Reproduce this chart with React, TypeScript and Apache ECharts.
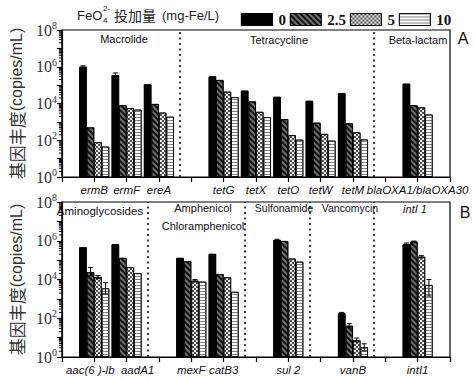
import React, { useEffect, useRef } from 'react';
import * as echarts from 'echarts';

// ---------- data ----------
const DOSES = ['0', '2.5', '5', '10'];

const TOP_CATEGORIES = ['', 'ermB', 'ermF', 'ereA', '', 'tetG', 'tetX', 'tetO', 'tetW', 'tetM', '', 'blaOXA1/blaOXA30', ''];
const TOP_DOSE_0 = [null, 1.0e6, 3.5e5, 1.1e5, null, 3.0e5, 5.0e4, 2.3e4, 1.4e4, 3.6e4, null, 1.2e5, null];
const TOP_DOSE_25 = [null, 5.0e2, 8.0e3, 9.4e3, null, 1.9e5, 1.3e4, 1.4e3, 9.0e2, 8.3e2, null, 8.0e3, null];
const TOP_DOSE_5 = [null, 78, 5.6e3, 3.2e3, null, 4.4e4, 3.5e3, 1.9e2, 2.2e2, 2.7e2, null, 6.2e3, null];
const TOP_DOSE_10 = [null, 45, 4.6e3, 1.9e3, null, 2.2e4, 1.8e3, 1.07e2, 95, 1.1e2, null, 2.5e3, null];
// [category index, dose index, low, high]
const TOP_ERRORS = [
  [1, 0, 9.0e5, 1.12e6],
  [2, 0, 2.8e5, 4.6e5],
];
const TOP_DIVIDERS = [4, 10];

const BOTTOM_CATEGORIES = ['', 'aac(6 )-lb', 'aadA1', '', 'mexF', 'catB3', '', 'sul 2', '', 'vanB', '', 'intI1', ''];
const BOTTOM_DOSE_0 = [null, 4.6e5, 6.6e5, null, 1.3e5, 2.1e5, null, 1.1e6, null, 1.8e2, null, 6.6e5, null];
const BOTTOM_DOSE_25 = [null, 2.4e4, 1.3e5, null, 8.7e4, 1.9e4, null, 9.7e5, null, 41, null, 9.0e5, null];
const BOTTOM_DOSE_5 = [null, 1.35e4, 4.3e4, null, 8.7e3, 1.3e4, null, 1.2e5, null, 7.5, null, 1.5e5, null];
const BOTTOM_DOSE_10 = [null, 3.5e3, 2.1e4, null, 7.7e3, 2.3e3, null, 8.3e4, null, 3.2, null, 5.2e3, null];
const BOTTOM_ERRORS = [
  [1, 1, 1.5e4, 4.2e4],
  [1, 2, 1.1e4, 1.6e4],
  [1, 3, 1.8e3, 6.8e3],
  [4, 2, 7.5e3, 1.0e4],
  [7, 0, 1.0e6, 1.2e6],
  [9, 0, 1.6e2, 2.0e2],
  [9, 1, 32, 53],
  [9, 2, 6.0, 9.5],
  [9, 3, 2.1, 4.8],
  [11, 0, 5.7e5, 7.6e5],
  [11, 1, 8.5e5, 9.6e5],
  [11, 2, 1.3e5, 1.7e5],
  [11, 3, 1.4e3, 1.0e4],
];
const BOTTOM_DIVIDERS = [3, 6, 8, 10];

const DECADES = [1, 10, 100, 1e3, 1e4, 1e5, 1e6, 1e7];
const MINOR_MULTIPLES = [2, 3, 4, 5, 6, 7, 8, 9];

// ---------- styles ----------
const BAR_W = 7.5;
const baseDecal = {
  symbol: 'rect',
  symbolSize: 1,
  symbolKeepAspect: false,
  backgroundColor: null,
  rotation: 0,
  maxTileWidth: 512,
  maxTileHeight: 512,
};
const PATTERNS = [
  { color: '#000000', decal: { ...baseDecal, color: '#000000', dashArrayX: [1, 0], dashArrayY: [1, 0] } },
  { color: '#707070', decal: { ...baseDecal, color: '#111111', dashArrayX: [1, 0], dashArrayY: [2, 1.5], rotation: Math.PI / 4 } },
  { color: '#f2f2f2', decal: { ...baseDecal, color: '#4a4a4a', dashArrayX: [[2, 2], [0, 2, 2, 0]], dashArrayY: [2, 0] } },
  { color: '#ffffff', decal: { ...baseDecal, color: '#808080', dashArrayX: [1, 0], dashArrayY: [1, 2] } },
];

const SANS = 'Liberation Sans, Arial, sans-serif';
const SERIF = 'Liberation Serif, Times New Roman, serif';
const CJK = 'Noto Sans CJK SC, sans-serif';

function barSeries(gi: number, arrays: (number | null)[][], dividers: number[]) {
  return arrays.map((arr, s) => ({
    type: 'bar',
    name: DOSES[s],
    xAxisIndex: gi,
    yAxisIndex: gi,
    data: arr,
    barWidth: BAR_W,
    barGap: '0%',
    itemStyle: { color: PATTERNS[s].color, decal: PATTERNS[s].decal, borderColor: '#000', borderWidth: 0.8 },
    markLine:
      s === 0
        ? {
            silent: true,
            symbol: ['none', 'none'],
            label: { show: false },
            lineStyle: { type: [2, 3.5], color: '#111', width: 1.6 },
            data: dividers.map((d) => ({ xAxis: d })),
          }
        : undefined,
  }));
}

function errorSeries(gi: number, errors: number[][]) {
  return {
    type: 'custom',
    xAxisIndex: gi,
    yAxisIndex: gi,
    silent: true,
    z: 5,
    data: errors,
    encode: { x: 0, y: [2, 3] },
    renderItem: (_p: any, api: any) => {
      const cat = api.value(0);
      const dose = api.value(1);
      const top = api.coord([cat, api.value(3)]);
      const bot = api.coord([cat, api.value(2)]);
      const x = top[0] + (dose - 1.5) * BAR_W;
      const style = { stroke: '#000', lineWidth: 1 };
      return {
        type: 'group',
        children: [
          { type: 'line', shape: { x1: x, y1: top[1], x2: x, y2: bot[1] }, style },
          { type: 'line', shape: { x1: x - 2.5, y1: top[1], x2: x + 2.5, y2: top[1] }, style },
          { type: 'line', shape: { x1: x - 2.5, y1: bot[1], x2: x + 2.5, y2: bot[1] }, style },
        ],
      };
    },
  };
}

function minorTickSeries(gi: number) {
  const vals: number[][] = [];
  DECADES.forEach((d) => MINOR_MULTIPLES.forEach((m) => vals.push([0, d * m])));
  return {
    type: 'custom',
    xAxisIndex: gi,
    yAxisIndex: gi,
    silent: true,
    z: 5,
    data: vals,
    encode: { x: 0, y: 1 },
    renderItem: (_p: any, api: any) => {
      const pt = api.coord([0, api.value(1)]);
      return {
        type: 'line',
        shape: { x1: pt[0] - 3, y1: pt[1], x2: pt[0], y2: pt[1] },
        style: { stroke: '#000', lineWidth: 1 },
      };
    },
  };
}

const X_LABEL_FONT = { fontFamily: SANS, fontStyle: 'italic', fontSize: 11.5, color: '#111' };

function xAxis(gi: number, cats: string[]) {
  return {
    type: 'category',
    gridIndex: gi,
    data: cats,
    boundaryGap: false,
    axisLine: { onZero: false, lineStyle: { color: '#000', width: 1.2 } },
    axisTick: { show: true, length: 5, lineStyle: { color: '#000', width: 1.2 }, interval: 0 },
    axisLabel: {
      interval: 0,
      hideOverlap: false,
      margin: 7,
      ...X_LABEL_FONT,
      formatter: (v: string) => {
        if (v === 'aac(6 )-lb') return `{l|${v}}`;
        if (v === 'aadA1') return `{r|${v}}`;
        return v;
      },
      rich: {
        l: { ...X_LABEL_FONT, padding: [0, 8, 0, 0] },
        r: { ...X_LABEL_FONT, padding: [0, 0, 0, 22] },
      },
    },
    splitLine: { show: false },
  };
}

function yAxis(gi: number) {
  return {
    type: 'log',
    gridIndex: gi,
    logBase: 10,
    min: 1,
    max: 1e8,
    splitNumber: 8,
    name: '{cn|基因丰度}{en|(copies/mL)}',
    nameLocation: 'middle',
    nameRotate: 90,
    nameGap: 33,
    nameTextStyle: {
      rich: {
        cn: { fontFamily: CJK, fontSize: 17, color: '#333' },
        en: { fontFamily: SANS, fontSize: 16, color: '#333' },
      },
    },
    axisLine: { show: true, lineStyle: { color: '#000', width: 1.2 } },
    axisTick: { show: true, length: 5, lineStyle: { color: '#000', width: 1.2 } },
    splitLine: { show: false },
    axisLabel: {
      margin: 5,
      formatter: (v: number) => {
        const e = Math.round(Math.log10(v));
        return e % 2 === 0 ? `{b|10}{s|${e}}` : '';
      },
      rich: {
        b: { fontFamily: SERIF, fontSize: 16, color: '#333' },
        s: { fontFamily: SERIF, fontSize: 10, color: '#333', padding: [0, 0, 9, 0] },
      },
    },
  };
}

function label(text: string, x: number, y: number, extra: any = {}) {
  return {
    type: 'text',
    x,
    y,
    silent: true,
    style: {
      text,
      fontFamily: SANS,
      fontSize: 11,
      fill: '#111',
      align: 'center',
      verticalAlign: 'middle',
      ...extra,
    },
  };
}

export default function App() {
  const ref = useRef<HTMLDivElement>(null);
  useEffect(() => {
    if (!ref.current) return;
    const chart = echarts.init(ref.current, null, { renderer: 'svg' });
    const option: any = {
      animation: false,
      backgroundColor: '#fff',
      aria: { enabled: true, decal: { show: true } },
      legend: {
        data: DOSES,
        left: 236,
        top: 7,
        itemWidth: 31,
        itemHeight: 12,
        itemGap: 4,
        icon: 'rect',
        selectedMode: false,
        textStyle: { fontFamily: SERIF, fontWeight: 'bold', fontSize: 15, color: '#111', padding: [0, 0, 0, 1] },
        itemStyle: { borderColor: '#000', borderWidth: 0.8 },
      },
      grid: [
        { left: 54, right: 24, top: 30, height: 147, show: true, borderColor: '#000', borderWidth: 1.2, backgroundColor: 'transparent' },
        { left: 54, right: 24, top: 202, height: 155, show: true, borderColor: '#000', borderWidth: 1.2, backgroundColor: 'transparent' },
      ],
      xAxis: [xAxis(0, TOP_CATEGORIES), xAxis(1, BOTTOM_CATEGORIES)],
      yAxis: [yAxis(0), yAxis(1)],
      series: [
        ...barSeries(0, [TOP_DOSE_0, TOP_DOSE_25, TOP_DOSE_5, TOP_DOSE_10], TOP_DIVIDERS),
        ...barSeries(1, [BOTTOM_DOSE_0, BOTTOM_DOSE_25, BOTTOM_DOSE_5, BOTTOM_DOSE_10], BOTTOM_DIVIDERS),
        errorSeries(0, TOP_ERRORS),
        errorSeries(1, BOTTOM_ERRORS),
        minorTickSeries(0),
        minorTickSeries(1),
      ],
      graphic: [
        // legend title
        { type: 'text', x: 77, y: 15, silent: true, style: { text: 'FeO', fontFamily: SANS, fontSize: 13, fill: '#222', verticalAlign: 'middle' } },
        { type: 'text', x: 103, y: 8, silent: true, style: { text: '2-', fontFamily: SANS, fontSize: 8, fill: '#222', verticalAlign: 'middle' } },
        { type: 'text', x: 103, y: 20, silent: true, style: { text: '4', fontFamily: SANS, fontSize: 8, fill: '#222', verticalAlign: 'middle' } },
        { type: 'text', x: 114, y: 15, silent: true, style: { text: '投加量', fontFamily: CJK, fontSize: 14, fill: '#222', verticalAlign: 'middle' } },
        { type: 'text', x: 162, y: 15, silent: true, style: { text: '(mg-Fe/L)', fontFamily: SANS, fontSize: 13, fill: '#222', verticalAlign: 'middle' } },
        // panel A labels
        label('Macrolide', 124, 39),
        label('Tetracycline', 279, 40),
        label('Beta-lactam', 418, 40),
        label('A', 463, 38, { fontSize: 16 }),
        // panel B labels
        label('Aminoglycosides', 100, 211, { fontSize: 11.5 }),
        label('Amphenicol', 203, 208),
        label('Chloramphenicol', 203, 226),
        label('Sulfonamide', 284, 208, { fontSize: 10.5 }),
        label('Vancomycin', 350, 208, { fontSize: 10.5 }),
        label('intI 1', 415, 209, { fontStyle: 'italic' }),
        label('B', 465, 212, { fontSize: 16 }),
      ],
    };
    chart.setOption(option);
    return () => chart.dispose();
  }, []);
  return <div ref={ref} style={{ position: 'fixed', left: 0, top: 0, width: 474, height: 379 }} />;
}
